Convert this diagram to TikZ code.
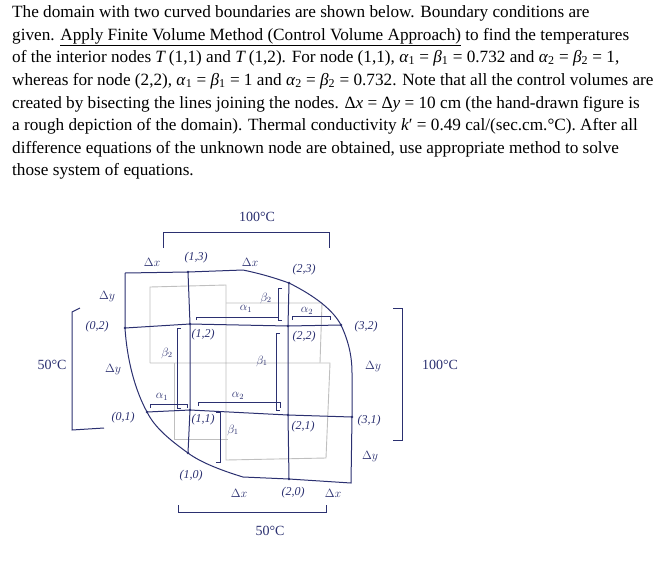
\documentclass[tikz,border=0pt]{standalone}
\usepackage{fontspec}
\setmainfont{Liberation Serif}
\begin{document}
\begin{tikzpicture}[x=1pt,y=-1pt,
  txt/.style={anchor=base west,inner sep=0,font=\fontsize{17.2}{18}\selectfont},
  ink/.style={draw=inkc,line width=1pt},
  cv/.style={draw=black!25,line width=0.9pt},
  lab/.style={text=inkc,font=\fontsize{12}{13}\selectfont\itshape,inner sep=1pt},
  dot/.style={circle,fill=inkc,inner sep=1pt}]
\definecolor{inkc}{HTML}{2B3070}
\useasboundingbox (0,0) rectangle (671,560);
% text
\node[txt] (t1) at (12,17) {The domain with two curved boundaries are shown below. Boundary conditions are};
\node[txt] (t2) at (12,40) {given. \underline{Apply Finite Volume Method (Control Volume Approach)} to find the temperatures};
\node[txt] (t3) at (12,62) {of the interior nodes \textit{T}\,(1,1) and \textit{T}\,(1,2). For node (1,1), \textit{α}\textsubscript{1} = \textit{β}\textsubscript{1} = 0.732 and \textit{α}\textsubscript{2} = \textit{β}\textsubscript{2} = 1,};
\node[txt] (t4) at (12,85) {whereas for node (2,2), \textit{α}\textsubscript{1} = \textit{β}\textsubscript{1} = 1 and \textit{α}\textsubscript{2} = \textit{β}\textsubscript{2} = 0.732. Note that all the control volumes are};
\node[txt] (t5) at (12,108) {created by bisecting the lines joining the nodes. Δ\textit{x} = Δ\textit{y} = 10 cm (the hand-drawn figure is};
\node[txt] (t6) at (12,130) {a rough depiction of the domain). Thermal conductivity \textit{k}′ = 0.49 cal/(sec.cm.°C). After all};
\node[txt] (t7) at (12,153) {difference equations of the unknown node are obtained, use appropriate method to solve};
\node[txt] (t8) at (12,175) {those system of equations.};
% grid nodes
\node[dot] (n13) at (188,272) {};
\node[dot] (n23) at (289,283) {};
\node[dot] (n02) at (125,328) {};
\node[dot] (n12) at (190,324) {};
\node[dot] (n22) at (288,326) {};
\node[dot] (n32) at (341,325) {};
\node[dot] (n01) at (147,412) {};
\node[dot] (n11) at (190,410) {};
\node[dot] (n21) at (288,415) {};
\node[dot] (n31) at (352,417) {};
\node[dot] (n10) at (188,453) {};
\node[dot] (n20) at (289,479) {};
\coordinate (tl) at (125,273);
\coordinate (br) at (351,483);
% control volumes
\draw[cv] (150,363) -- (150,287) -- (226,285) -- (226,460) -- (326,458) -- (330,363) -- (150,363);
\draw[cv] (226,303) -- (322,303) -- (320,363);
\draw[cv] (174,363) -- (174,439) -- (228,439);
% boundary
\draw[ink] (tl) -- (n13.center) -- (243,270) .. controls (262,274) and (275,278) .. (n23.center)
  .. controls (315,296) and (333,310) .. (n32.center) .. controls (348,340) and (352,355) .. (352,373)
  -- (n31.center) -- (br) -- (n20.center) -- (243,477)
  .. controls (220,470) and (200,462) .. (n10.center) .. controls (170,440) and (155,428) .. (n01.center)
  .. controls (135,390) and (127,360) .. (n02.center) -- (tl);
% grid lines
\draw[ink] (n02.center) -- (n12.center) -- (n22.center) -- (n32.center);
\draw[ink] (n01.center) -- (n11.center) -- (n21.center) -- (n31.center);
\draw[ink] (n13.center) -- (n12.center) -- (n11.center) -- (n10.center);
\draw[ink] (n23.center) -- (n22.center) -- (n21.center) -- (n20.center);
% alpha beta markers
\draw[ink,line width=0.8pt] (282,288) -- (278,288) -- (278,320) -- (282,320);
\draw[ink,line width=0.8pt] (196,320) -- (196,317) -- (278,317);
\draw[ink,line width=0.8pt] (292,320) -- (292,316) -- (330,316) -- (330,320);
\draw[ink,line width=0.8pt] (181,328) -- (177,328) -- (177,408) -- (181,408);
\draw[ink,line width=0.8pt] (280,333) -- (276,333) -- (276,410) -- (280,410);
\draw[ink,line width=0.8pt] (150,408) -- (150,404) -- (187,404) -- (187,408);
\draw[ink,line width=0.8pt] (198,406) -- (198,402) -- (280,402) -- (280,408);
\draw[ink,line width=0.8pt] (216,412) -- (220,412) -- (220,462) -- (216,462);
\node[lab] (b2a) at (266,298) {$\beta_2$};
\node[lab] (a1a) at (246,309) {$\alpha_1$};
\node[lab] (a2a) at (307,311) {$\alpha_2$};
\node[lab] (b2b) at (167,353) {$\beta_2$};
\node[lab] (b1a) at (262,361) {$\beta_1$};
\node[lab] (a1b) at (162,397) {$\alpha_1$};
\node[lab] (a2b) at (238,396) {$\alpha_2$};
\node[lab] (b1b) at (233,430) {$\beta_1$};
% outer brackets
\draw[ink] (163,248) -- (163,232) -- (329,232) -- (329,248);
\draw[ink] (80,308) -- (72,312) -- (72,430) -- (104,428);
\draw[ink] (393,308) -- (402,308) -- (402,440) -- (393,440);
\draw[ink] (178,505) -- (178,512) -- (326,512) -- (326,505);
\node[lab,font=\fontsize{14}{15}\selectfont] (tT) at (257,217) {100°C};
\node[lab,font=\fontsize{14}{15}\selectfont] (tL) at (52,365) {50°C};
\node[lab,font=\fontsize{14}{15}\selectfont] (tR) at (440,365) {100°C};
\node[lab,font=\fontsize{14}{15}\selectfont] (tB) at (270,531) {50°C};
% labels
\node[lab] at (152,262) {$\Delta x$};
\node[lab] at (196,258) {(1,3)};
\node[lab] at (250,262) {$\Delta x$};
\node[lab] at (304,270) {(2,3)};
\node[lab] at (107,297) {$\Delta y$};
\node[lab] at (97,327) {(0,2)};
\node[lab] at (203,335) {(1,2)};
\node[lab] at (304,337) {(2,2)};
\node[lab] at (366,327) {(3,2)};
\node[lab] at (113,370) {$\Delta y$};
\node[lab] at (373,367) {$\Delta y$};
\node[lab] at (123,418) {(0,1)};
\node[lab] at (203,420) {(1,1)};
\node[lab] at (303,427) {(2,1)};
\node[lab] at (369,421) {(3,1)};
\node[lab] at (370,457) {$\Delta y$};
\node[lab] at (191,476) {(1,0)};
\node[lab] at (239,493) {$\Delta x$};
\node[lab] at (293,493) {(2,0)};
\node[lab] at (333,493) {$\Delta x$};
\end{tikzpicture}
\end{document}
